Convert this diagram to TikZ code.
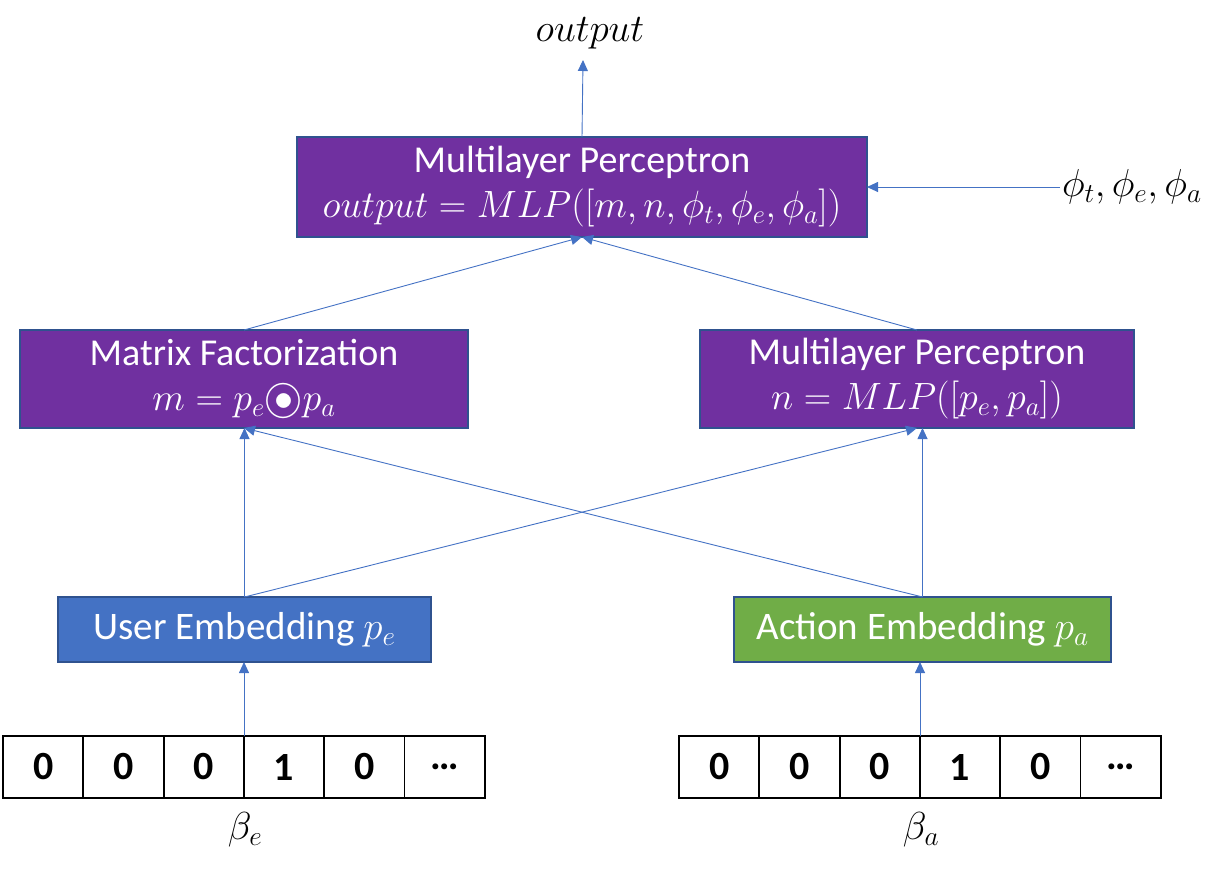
\RequirePackage{fix-cm}
\documentclass[tikz,border=0pt]{standalone}
\usepackage{fontspec}
\setmainfont{Carlito}
\usetikzlibrary{arrows.meta,calc}
\definecolor{boxpurple}{HTML}{7030A0}
\definecolor{boxblue}{HTML}{4472C4}
\definecolor{boxgreen}{HTML}{70AD47}
\definecolor{boxedge}{HTML}{2F528F}
\definecolor{arrowblue}{HTML}{4472C4}
\newcommand{\cdotop}{\mathord{\ooalign{$\bigcirc$\cr\hidewidth$\bullet$\hidewidth\cr}}}
\begin{document}
\begin{tikzpicture}[x=1pt,y=-1pt,
  every node/.style={inner sep=0pt,outer sep=0pt},
  procbox/.style={draw=boxedge,line width=1.5pt,fill=boxpurple,text=white,align=center,
    font=\fontsize{38}{45}\selectfont},
  embbox/.style={draw=boxedge,line width=1.5pt,text=white,align=center,
    font=\fontsize{39}{44}\selectfont,minimum height=65pt},
  cell/.style={draw=black,line width=1.8pt,minimum width=80.3pt,minimum height=62pt,
    font=\fontsize{40}{42}\selectfont\bfseries},
  conn/.style={draw=arrowblue,line width=0.9pt,-{Triangle[length=11pt,width=10pt]}},
  lbl/.style={font=\fontsize{39}{44}\selectfont}
]
\useasboundingbox (0,0) rectangle (1222,868);

% top MLP
\node[procbox,minimum width=570pt,minimum height=100pt] (top) at (582,187)
  {Multilayer Perceptron\\ $output=MLP([m,n,\phi_t,\phi_e,\phi_a])$};
% middle boxes
\node[procbox,minimum width=448pt,minimum height=98pt] (mf) at (244,379)
  {Matrix Factorization\\ $m=p_e\cdotop p_a$};
\node[procbox,minimum width=434pt,minimum height=98pt] (mlp) at (917,379)
  {Multilayer Perceptron\\ $n=MLP([p_e,p_a])$};
% embeddings
\node[embbox,fill=boxblue,minimum width=373pt] (ue) at (244.5,629.5) {User Embedding $p_e$};
\node[embbox,fill=boxgreen,minimum width=377pt] (ae) at (922.5,629.5) {Action Embedding $p_a$};

% one-hot vectors
\foreach \i/\v in {0/0,1/0,2/0,3/1,4/0,5/{…}} {
  \node[cell] (l\i) at ({43.2+80.3*\i},767) {\v};
  \node[cell] (r\i) at ({719.2+80.3*\i},767) {\v};
}
\node[lbl] (be) at (245,830) {$\beta_e$};
\node[lbl] (ba) at (921,830) {$\beta_a$};

% output and phi labels
\node[lbl] (out) at (590,33) {$output$};
\node[lbl,anchor=west] (phi) at (1062,187) {$\phi_t,\phi_e,\phi_a$};
\coordinate (outtip) at (583,60);
\coordinate (ueup) at (244,736);
\coordinate (aeup) at (920,736);
\coordinate (phistart) at (1060,187);

% connectors
\draw[conn] (ueup) -- (ueup |- ue.south);
\draw[conn] (aeup) -- (aeup |- ae.south);
\draw[conn] (ue.north) -- (ue.north |- mf.south);
\draw[conn] (ue.north) -- (mlp.south);
\draw[conn] (ae.north) -- (ae.north |- mlp.south);
\draw[conn] (ae.north) -- (mf.south);
\draw[conn] (mf.north) -- (top.south);
\draw[conn] (mlp.north) -- (top.south);
\draw[conn] (top.north) -- (outtip);
\draw[conn] (phistart) -- (top.east);
\end{tikzpicture}
\end{document}
